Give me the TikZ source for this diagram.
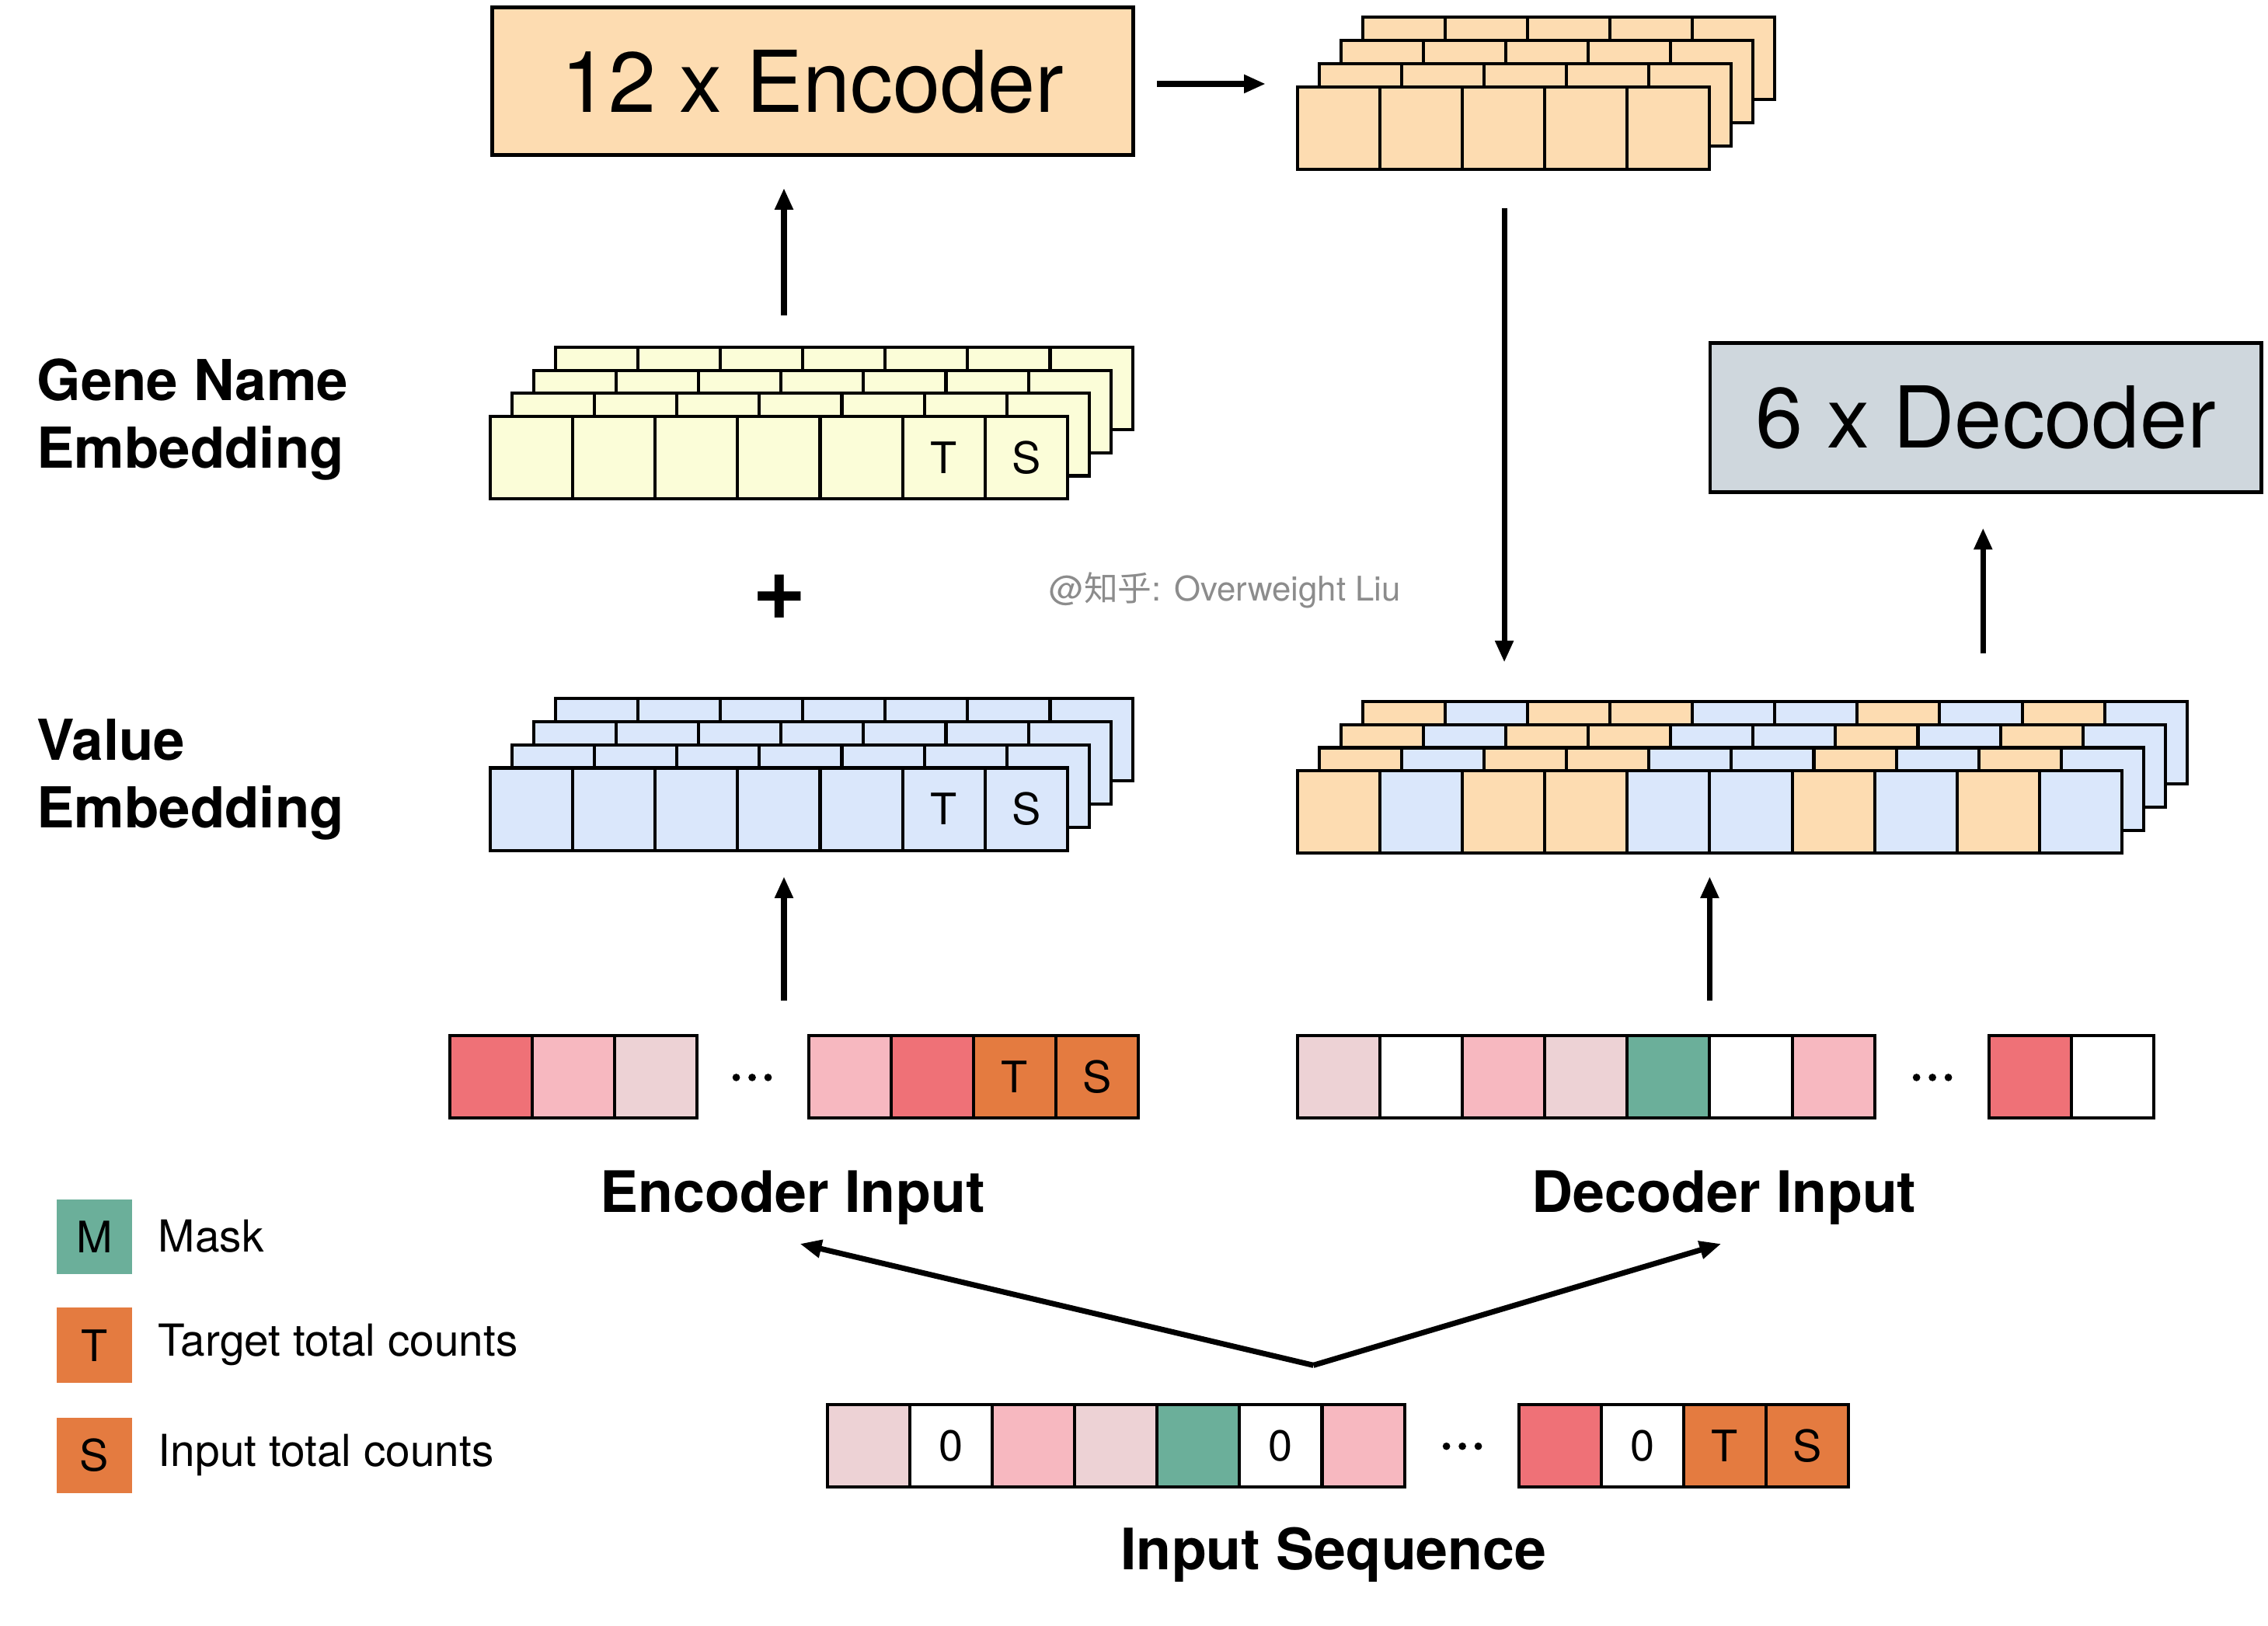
\documentclass[tikz,border=0pt]{standalone}
\usepackage{fontspec}
\setmainfont{TeX Gyre Heros}
\newfontfamily\cjk{Noto Sans CJK SC}
\usetikzlibrary{arrows.meta}
\definecolor{cEnc}{HTML}{FDDCB1}
\definecolor{cGen}{HTML}{FBFDD8}
\definecolor{cVal}{HTML}{DAE7FB}
\definecolor{cDec}{HTML}{CFD7DD}
\definecolor{cRed}{HTML}{EF7177}
\definecolor{cPink}{HTML}{F7B8C0}
\definecolor{cLpk}{HTML}{EDD2D5}
\definecolor{cTeal}{HTML}{6BAF9A}
\definecolor{cOra}{HTML}{E47B40}
\tikzset{x=1pt,y=-1pt,
 cell/.style={draw=black,line width=2.2pt,minimum width=57pt,minimum height=57pt,inner sep=0pt,outer sep=0pt,font=\fontsize{30}{30}\selectfont,anchor=north west},
 arr/.style={-{Triangle[length=15pt,width=12pt]},line width=3.8pt},
 lbl/.style={font=\bfseries\fontsize{39}{47}\selectfont,align=left,anchor=west},
 ttl/.style={font=\bfseries\fontsize{39.5}{40}\selectfont},
 box/.style={draw=black,line width=2.6pt,inner sep=0pt,anchor=north west,font=\fontsize{59}{59}\selectfont},
 dots/.pic={\foreach \d in {-11,0,11}{\fill (\d,0) circle (2.6);}}}
\begin{document}
\begin{tikzpicture}
\useasboundingbox (0,0) rectangle (1568,1124);
\node[box,fill=cEnc,minimum width=443pt,minimum height=102pt] (enc) at (339,4) {12 x Encoder};
\node[box,fill=cDec,minimum width=381pt,minimum height=103pt] (dec) at (1181,236) {6 x Decoder};
\foreach \l in {3,2,1,0}{
  \foreach \i in {0,...,4}{\node[cell,fill=cEnc] at ({897+15*\l+57*\i},{60-16*\l}) {};}
  \foreach \i in {0,...,6}{\node[cell,fill=cGen] at ({339+15*\l+57*\i},{288-16*\l}) {};}
  \foreach \i in {0,...,6}{\node[cell,fill=cVal] at ({339+15*\l+57*\i},{531-16*\l}) {};}
  \foreach \c [count=\i from 0] in {cEnc,cVal,cEnc,cEnc,cVal,cVal,cEnc,cVal,cEnc,cVal}{\node[cell,fill=\c] at ({897+15*\l+57*\i},{533-16*\l}) {};}
}
\node[cell,fill=cGen] (gT) at (624,288) {T};
\node[cell,fill=cGen] (gS) at (681,288) {S};
\node[cell,fill=cVal] (vT) at (624,531) {T};
\node[cell,fill=cVal] (vS) at (681,531) {S};
\foreach \c/\t/\x in {cRed//311,cPink//368,cLpk//425,cPink//559,cRed//616,cOra/T/673,cOra/S/730}{\node[cell,fill=\c] at (\x,716) {\t};}
\coordinate (d1) at (520,745); \pic at (d1) {dots};
\foreach \c/\x in {cLpk/897,white/954,cPink/1011,cLpk/1068,cTeal/1125,white/1182,cPink/1239,cRed/1375,white/1432}{\node[cell,fill=\c] at (\x,716) {};}
\coordinate (d2) at (1336,745); \pic at (d2) {dots};
\foreach \c/\t/\x in {cLpk//572,white/0/629,cPink//686,cLpk//743,cTeal//800,white/0/857,cPink//914,cRed//1050,white/0/1107,cOra/T/1164,cOra/S/1221}{\node[cell,fill=\c] at (\x,971) {\t};}
\coordinate (d3) at (1011,1000); \pic at (d3) {dots};
\node[lbl] (gn) at (22,290) {Gene Name\\Embedding};
\node[lbl] (ve) at (22,539) {Value\\Embedding};
\node[ttl] (ei) at (548,828) {Encoder Input};
\node[ttl] (di) at (1192,828) {Decoder Input};
\node[ttl] (is) at (922,1075) {Input Sequence};
\node[font=\bfseries\fontsize{64}{64}\selectfont] (plus) at (539,413) {+};
\node[text=black!45,font=\fontsize{23.5}{23.5}\selectfont] (wm) at (847,408) {@{\cjk 知乎}: Overweight Liu};
\foreach \c/\t/\y/\s in {cTeal/M/829/Mask,cOra/T/904/Target total counts,cOra/S/980/Input total counts}{
  \node[fill=\c,minimum width=52pt,minimum height=52pt,inner sep=0pt,anchor=north west,font=\fontsize{30}{30}\selectfont] at (39,\y) {\t};
  \node[anchor=west,font=\fontsize{30.5}{30.5}\selectfont] at (106,\y+26) {\s};}
\coordinate (a1) at (800,58); \coordinate (a2) at (875,58);
\draw[arr] (a1) -- (a2);
\coordinate (b1) at (542,218); \coordinate (b2) at (542,130);
\draw[arr] (b1) -- (b2);
\coordinate (c1) at (1040,144); \coordinate (c2) at (1040,458);
\draw[arr] (c1) -- (c2);
\coordinate (e1) at (1371,452); \coordinate (e2) at (1371,365);
\draw[arr] (e1) -- (e2);
\coordinate (f1) at (542,692); \coordinate (f2) at (542,606);
\draw[arr] (f1) -- (f2);
\coordinate (g1) at (1182,692); \coordinate (g2) at (1182,606);
\draw[arr] (g1) -- (g2);
\coordinate (h) at (908,944); \coordinate (h1) at (553,860); \coordinate (h2) at (1190,860);
\draw[arr] (h) -- (h1);
\draw[arr] (h) -- (h2);
\end{tikzpicture}
\end{document}
